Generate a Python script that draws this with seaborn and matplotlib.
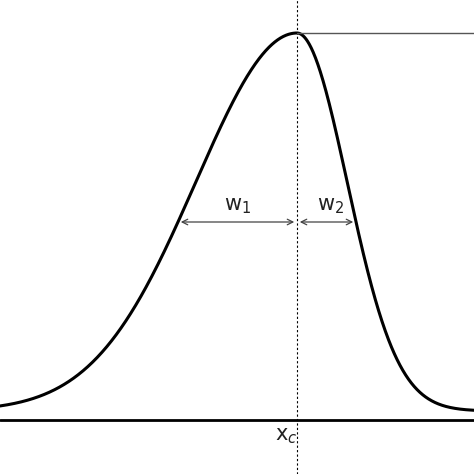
import numpy as np
import matplotlib.pyplot as plt
import seaborn as sns

# bi-Gaussian peak parameters (in plot units)
xc = 297
w1 = 119
w2 = 59
peak_height = 441
base_level = 63
axis_level = 54

sns.set_style("white")
plt.rcParams['font.family'] = ['DejaVu Sans']

x = np.linspace(0, 474, 1000)
s1 = w1 / np.sqrt(2 * np.log(2))
s2 = w2 / np.sqrt(2 * np.log(2))
sig = np.where(x < xc, s1, s2)
y = base_level + (peak_height - base_level) * np.exp(-(x - xc) ** 2 / (2 * sig ** 2))

fig = plt.figure(figsize=(4.74, 4.74), dpi=100)
ax = fig.add_axes([0, 0, 1, 1])
sns.lineplot(x=x, y=y, ax=ax, color='black', linewidth=2.2)
ax.axhline(axis_level, color='black', linewidth=2)
ax.axvline(xc, color='black', linestyle=(0, (2, 2)), linewidth=0.8)
ax.plot([xc, 474], [peak_height, peak_height], color='#555555', linewidth=1)

half = (peak_height + base_level) / 2
ax.annotate('', xy=(xc - w1, half), xytext=(xc, half),
            arrowprops=dict(arrowstyle='<->', color='#444444', lw=0.9))
ax.annotate('', xy=(xc, half), xytext=(xc + w2, half),
            arrowprops=dict(arrowstyle='<->', color='#444444', lw=0.9))
ax.text(xc - w1 / 2, half + 6, 'w$_1$', ha='center', va='bottom', fontsize=15, color='#222222')
ax.text(xc + w2 / 2 + 4, half + 6, 'w$_2$', ha='center', va='bottom', fontsize=15, color='#222222')
ax.text(xc - 11, axis_level - 6, 'x$_c$', ha='center', va='top', fontsize=15, color='#222222')

ax.set_xlim(0, 474)
ax.set_ylim(0, 474)
ax.axis('off')
fig.savefig('out.png', dpi=100)
